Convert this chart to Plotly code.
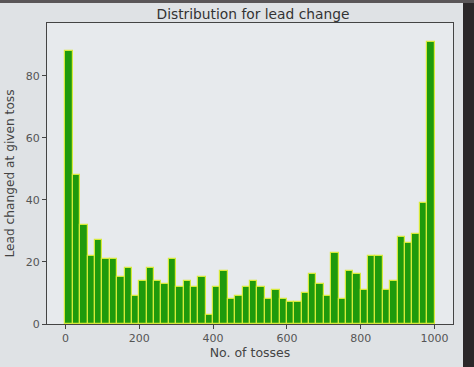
import plotly.graph_objects as go

# Histogram data: 50 bins of width 20 covering 0..1000
bin_left = list(range(0, 1000, 20))
bin_width = 20
counts = [88, 48, 32, 22, 27, 21, 21, 15, 18, 9,
          14, 18, 14, 13, 21, 12, 14, 12, 15, 3,
          12, 17, 8, 9, 12, 14, 12, 8, 11, 8,
          7, 7, 10, 16, 13, 9, 23, 8, 17, 16,
          11, 22, 22, 11, 14, 28, 26, 29, 39, 91]
x_ticks = [0, 200, 400, 600, 800, 1000]
y_ticks = [0, 20, 40, 60, 80]

centers = [b + bin_width / 2 for b in bin_left]

fig = go.Figure(go.Bar(
    x=centers, y=counts, width=bin_width,
    marker=dict(color="#1f9a0c", line=dict(color="#d6ea3a", width=1.2)),
))

W, H = 474, 367
L, R, T, B = 47, 21, 23, 43
pw, ph = W - L - R, H - T - B

fig.update_layout(
    width=W, height=H,
    margin=dict(l=L, r=R, t=T, b=B, autoexpand=False),
    paper_bgcolor="#dfe2e5",
    plot_bgcolor="#e7eaed",
    bargap=0,
    showlegend=False,
    font=dict(family="DejaVu Sans", color="#444"),
    title=dict(text="Distribution for lead change", x=(253 - L) / pw, xref="paper",
               xanchor="center", y=1 - 14 / H, yanchor="middle",
               font=dict(size=13.8, color="#333")),
    xaxis=dict(range=[-50, 1050], tickvals=x_ticks, ticks="outside", ticklen=4,
               tickcolor="#444", showgrid=False, zeroline=False, automargin=False,
               showline=True, linecolor="#444", linewidth=1, mirror=True,
               tickfont=dict(size=11, color="#555"),
               title=dict(text="No. of tosses", font=dict(size=12.5, color="#444"), standoff=4)),
    yaxis=dict(range=[0, 97], tickvals=y_ticks, ticks="outside", ticklen=4,
               tickcolor="#444", showgrid=False, zeroline=False, automargin=False,
               showline=True, linecolor="#444", linewidth=1, mirror=True,
               tickfont=dict(size=11, color="#555"),
               title=dict(text="Lead changed at given toss", font=dict(size=12.2, color="#444"), standoff=8)),
)

# dark monitor bezel at the right and top edges of the photo
fig.add_shape(type="rect", xref="paper", yref="paper",
              x0=(463 - L) / pw, x1=(W + 5 - L) / pw, y0=-(B + 5) / ph, y1=(H + 5 - B) / ph,
              fillcolor="#2b2729", line=dict(width=0), layer="above")
fig.add_shape(type="rect", xref="paper", yref="paper",
              x0=-(L + 5) / pw, x1=(W + 5 - L) / pw, y0=(H - 3 - B) / ph, y1=(H + 5 - B) / ph,
              fillcolor="#5a5658", line=dict(width=0), layer="above")

fig.write_html("out.html", config={"displayModeBar": False},
               post_script="document.body.style.margin='0';")
